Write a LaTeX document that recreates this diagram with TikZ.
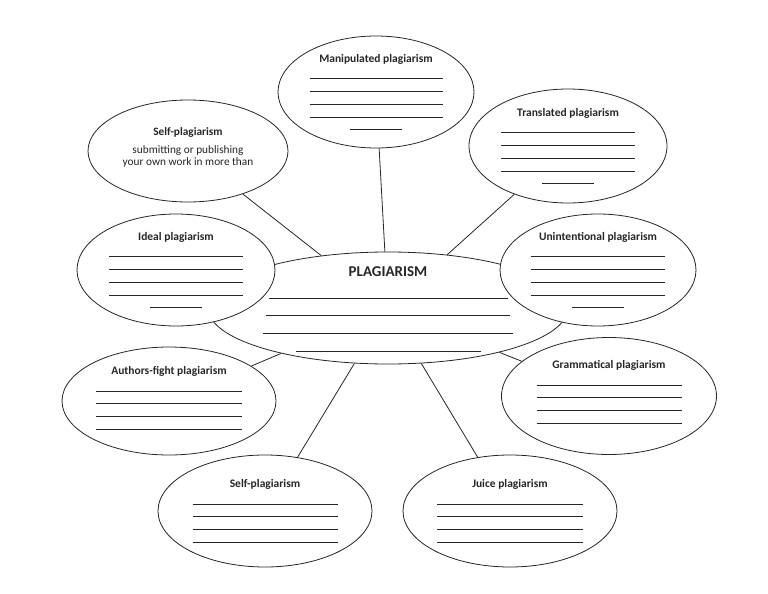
\documentclass[tikz,border=0pt]{standalone}
\usepackage{fontspec}
\setmainfont{Carlito}
\usetikzlibrary{shapes.geometric}
\newcommand{\blank}[1]{\rule{#1pt}{0.7pt}}

\begin{document}
\begin{tikzpicture}[x=1pt, y=-1pt, line width=0.8pt,
  bubble/.style 2 args={ellipse, draw=black!85, line width=0.8pt, fill=white,
    inner sep=0pt, minimum width=#1pt, minimum height=#2pt},
  notes/.style={align=center, inner sep=0pt, text=black!85,
    font=\fontsize{11.5}{12.75}\selectfont},
  link/.style={draw=black!85, line width=0.8pt}]

% Canvas
\useasboundingbox (0,0) rectangle (768,594);

% Centre bubble
\node[bubble={360}{112}] (core) at (388,308) {};
\node[notes, font=\fontsize{11.5}{17.7}\selectfont] at ([yshift=-1pt]core.center)
  {{\fontsize{15}{17}\selectfont\bfseries PLAGIARISM}\\[4pt]
   \blank{239}\\ \blank{244}\\ \blank{250}\\ \blank{185}};

% Top row
\node[bubble={196}{112}] (manip) at (376,92) {};
\node[notes] at (manip) {\bfseries Manipulated plagiarism\\[4.25pt]
  \blank{133}\\ \blank{133}\\ \blank{133}\\ \blank{133}\\ \blank{52}};

\node[bubble={200}{102}] (selfa) at (188,151) {};
\node[notes, font=\fontsize{11.3}{12}\selectfont] at ([yshift=4pt]selfa.center)
  {\bfseries Self-plagiarism\\[6pt]
   submitting or publishing\\ your own work in more than};

\node[bubble={198}{114}] (transl) at (568,146) {};
\node[notes] at (transl) {\bfseries Translated plagiarism\\[4.25pt]
  \blank{134}\\ \blank{134}\\ \blank{134}\\ \blank{134}\\ \blank{52}};

% Side bubbles (over the centre one)
\node[bubble={198}{112}] (ideal) at (176,270) {};
\node[notes] at (ideal) {\bfseries Ideal plagiarism\\[4.25pt]
  \blank{134}\\ \blank{134}\\ \blank{134}\\ \blank{134}\\ \blank{52}};

\node[bubble={196}{112}] (unint) at (598,270) {};
\node[notes] at (unint) {\bfseries Unintentional plagiarism\\[4.25pt]
  \blank{134}\\ \blank{134}\\ \blank{134}\\ \blank{134}\\ \blank{52}};

% Lower bubbles
\node[bubble={214}{108}] (authors) at (169,401) {};
\node[notes] at ([yshift=3pt]authors.center) {\bfseries Authors-fight plagiarism\\[4.25pt]
  \blank{146}\\ \blank{146}\\ \blank{146}\\ \blank{146}};

\node[bubble={215}{117}] (gramm) at (609,396) {};
\node[notes] at ([yshift=4pt]gramm.center) {\bfseries Grammatical plagiarism\\[4.25pt]
  \blank{145}\\ \blank{145}\\ \blank{145}\\ \blank{145}};

\node[bubble={214}{112}] (selfb) at (265,511) {};
\node[notes] at (selfb) {\bfseries Self-plagiarism\\[4.25pt]
  \blank{145}\\ \blank{145}\\ \blank{145}\\ \blank{145}};

\node[bubble={214}{112}] (juice) at (510,511) {};
\node[notes] at (juice) {\bfseries Juice plagiarism\\[4.25pt]
  \blank{146}\\ \blank{146}\\ \blank{146}\\ \blank{146}};

% Spokes
\foreach \leaf in {manip, selfa, transl, authors, gramm, selfb, juice}
  \draw[link] (core) -- (\leaf);

\end{tikzpicture}
\end{document}
